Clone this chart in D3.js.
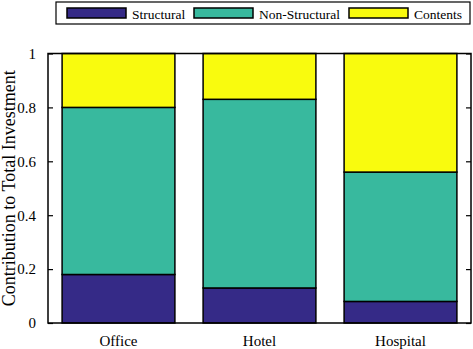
<!DOCTYPE html>
<html>
<head>
<meta charset="utf-8">
<script src="https://cdn.jsdelivr.net/npm/d3@7"></script>
<style>
body { margin: 0; background: #fff; }
text { font-family: "Liberation Serif", "Times New Roman", serif; fill: #000; }
</style>
</head>
<body>
<script>
var categories = ["Office", "Hotel", "Hospital"];
var seriesNames = ["Structural", "Non-Structural", "Contents"];
var structural = [0.18, 0.13, 0.08];
var nonStructural = [0.62, 0.70, 0.48];
var contents = [0.20, 0.17, 0.44];
var yTicks = [0, 0.2, 0.4, 0.6, 0.8, 1];
var colors = ["#352a87", "#38b99e", "#f9fb0e"];

var w = 473, h = 349;
var margin = {top: 53.5, right: 2, bottom: 26, left: 48};

var svg = d3.select("body").append("svg")
	.attr("width", w)
	.attr("height", h);

var x = d3.scaleBand()
	.domain(categories)
	.range([margin.left, w - margin.right])
	.paddingInner(0.2)
	.paddingOuter(0.1);

var y = d3.scaleLinear()
	.domain([0, 1])
	.range([h - margin.bottom, margin.top]);

var rows = categories.map(function(c, i) {
	return {cat: c, "Structural": structural[i], "Non-Structural": nonStructural[i], "Contents": contents[i]};
});
var stacked = d3.stack().keys(seriesNames)(rows);

// bars
svg.append("g").selectAll("g")
	.data(stacked)
	.enter().append("g")
	.style("fill", function(d, i) { return colors[i]; })
	.selectAll("rect")
	.data(function(d) { return d; })
	.enter().append("rect")
	.attr("x", function(d) { return x(d.data.cat); })
	.attr("width", x.bandwidth())
	.attr("y", function(d) { return y(d[1]); })
	.attr("height", function(d) { return y(d[0]) - y(d[1]); })
	.style("stroke", "#000")
	.style("stroke-width", 1.5);

// frame
svg.append("rect")
	.attr("x", margin.left).attr("y", margin.top)
	.attr("width", w - margin.right - margin.left)
	.attr("height", h - margin.bottom - margin.top)
	.style("fill", "none")
	.style("stroke", "#000")
	.style("stroke-width", 1.5);

// y axis left
var yAxis = svg.append("g")
	.attr("transform", "translate(" + margin.left + ",0)")
	.call(d3.axisLeft(y).tickValues(yTicks).tickSize(-5).tickPadding(12)
		.tickFormat(function(d) { return d3.format("")(d); }));
yAxis.select(".domain").remove();
yAxis.selectAll("line").style("stroke-width", 1.2);
yAxis.selectAll("text").style("font-size", "15px");

// y ticks right
var yAxisR = svg.append("g")
	.attr("transform", "translate(" + (w - margin.right) + ",0)")
	.call(d3.axisRight(y).tickValues(yTicks).tickSize(-5).tickFormat(""));
yAxisR.select(".domain").remove();
yAxisR.selectAll("line").style("stroke-width", 1.2);

// x labels
var xAxis = svg.append("g")
	.attr("transform", "translate(0," + (h - margin.bottom) + ")")
	.call(d3.axisBottom(x).tickSize(0).tickPadding(12));
xAxis.select(".domain").remove();
xAxis.selectAll("text").style("font-size", "15px");

// y label
svg.append("text")
	.attr("transform", "translate(15," + ((margin.top + h - margin.bottom) / 2) + ") rotate(-90)")
	.attr("text-anchor", "middle")
	.style("font-size", "18px")
	.text("Contribution to Total Investment");

// legend
var legend = svg.append("g");
legend.append("rect")
	.attr("x", 56).attr("y", 2)
	.attr("width", 414).attr("height", 22)
	.style("fill", "#fff")
	.style("stroke", "#000")
	.style("stroke-width", 1.2);

var legX = [67, 194, 349];
var items = legend.selectAll("g.item")
	.data(seriesNames)
	.enter().append("g")
	.attr("class", "item")
	.attr("transform", function(d, i) { return "translate(" + legX[i] + ",0)"; });
items.append("rect")
	.attr("x", 0).attr("y", 8)
	.attr("width", 59).attr("height", 10)
	.style("fill", function(d, i) { return colors[i]; })
	.style("stroke", "#000")
	.style("stroke-width", 1.5);
items.append("text")
	.attr("x", 65).attr("y", 18.5)
	.style("font-size", "13.5px")
	.text(function(d) { return d; });
</script>
</body>
</html>
